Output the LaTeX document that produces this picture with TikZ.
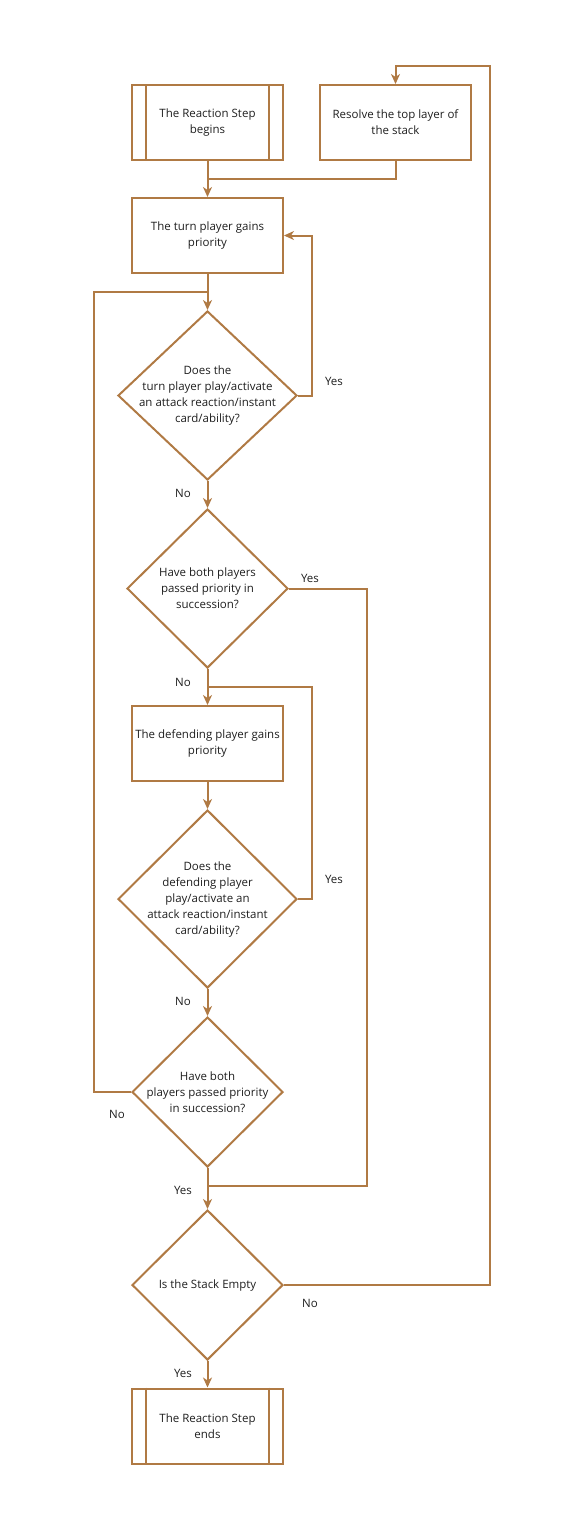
\documentclass[tikz,border=0pt]{standalone}
\usepackage{fontspec}
\setmainfont{Open Sans}
\usepackage{tikz}
\usetikzlibrary{shapes.geometric,arrows.meta}

\definecolor{flowbrown}{RGB}{176,122,68}
\definecolor{flowtext}{RGB}{30,30,30}

\tikzset{
  flowbox/.style={draw=flowbrown, line width=2pt, rectangle, minimum width=151pt, minimum height=75pt, inner sep=0pt, align=center, text=flowtext, font=\fontsize{11.5}{16}\selectfont},
  flowcheck/.style={draw=flowbrown, line width=2pt, diamond, inner sep=0pt},
  flowtxt/.style={align=center, text=flowtext, font=\fontsize{11.5}{16}\selectfont},
  flowline/.style={draw=flowbrown, line width=2pt},
  flowarrow/.style={flowline, -{Stealth[length=10pt,width=9pt,inset=3pt]}},
}

\begin{document}
\begin{tikzpicture}[x=1pt, y=-1pt]

    \useasboundingbox (0,0) rectangle (576,1535);

    \node[flowbox] (start) at (207.5,122.5) {The Reaction Step\\begins};

    \draw[flowline] ([xshift=15pt]start.north west) -- ([xshift=15pt]start.south west);

    \draw[flowline] ([xshift=-15pt]start.north east) -- ([xshift=-15pt]start.south east);

    \node[flowbox] (resolve) at (395.5,122.5) {Resolve the top layer of\\the stack};

    \node[flowbox] (turn) at (207.5,235.5) {The turn player gains\\priority};

    \node[flowcheck, minimum width=179pt, minimum height=169pt] (turnask) at (207.5,395.5) {};

    \node[flowtxt] (turnasktext) at (turnask.center) {Does the\\turn player play/activate\\an attack reaction/instant\\card/ability?};

    \node[flowcheck, minimum width=161pt, minimum height=159pt] (passone) at (207.5,588.5) {};

    \node[flowtxt] (passonetext) at (passone.center) {Have both players\\passed priority in\\succession?};

    \node[flowbox] (defend) at (207.5,743.5) {The defending player gains\\priority};

    \node[flowcheck, minimum width=179pt, minimum height=178pt] (defendask) at (207.5,899) {};

    \node[flowtxt] (defendasktext) at (defendask.center) {Does the\\defending player\\play/activate an\\attack reaction/instant\\card/ability?};

    \node[flowcheck, minimum width=151pt, minimum height=150pt] (passtwo) at (207.5,1092) {};

    \node[flowtxt] (passtwotext) at (passtwo.center) {Have both\\players passed priority\\in succession?};

    \node[flowcheck, minimum width=151pt, minimum height=150pt] (empty) at (207.5,1285) {};

    \node[flowtxt] (emptytext) at (empty.center) {Is the Stack Empty};

    \node[flowbox] (finish) at (207.5,1426) {The Reaction Step\\ends};

    \draw[flowline] ([xshift=15pt]finish.north west) -- ([xshift=15pt]finish.south west);

    \draw[flowline] ([xshift=-15pt]finish.north east) -- ([xshift=-15pt]finish.south east);



    \coordinate (topjoin) at (207.5,179);

    \coordinate (turnjoin) at (207.5,292);

    \coordinate (defendjoin) at (207.5,687);

    \coordinate (emptyjoin) at (207.5,1186);

    \coordinate (loopcorner) at (490,66);



    \draw[flowarrow] (start.south) -- (turn.north);

    \draw[flowline] (resolve.south) |- (topjoin);

    \draw[flowarrow] (turn.south) -- (turnask.north);

    \draw[flowarrow] (turnask.east) -- ++(14,0) |- (turn.east);

    \draw[flowarrow] (turnask.south) -- (passone.north);

    \draw[flowline] (passone.east) -| (367,1186) -- (emptyjoin);

    \draw[flowarrow] (passone.south) -- (defend.north);

    \draw[flowline] (defendask.east) -- ++(14,0) |- (defendjoin);

    \draw[flowarrow] (defend.south) -- (defendask.north);

    \draw[flowarrow] (defendask.south) -- (passtwo.north);

    \draw[flowline] (passtwo.west) -| (94,292) -- (turnjoin);

    \draw[flowarrow] (passtwo.south) -- (empty.north);

    \draw[flowarrow] (empty.east) -| (loopcorner) -| (resolve.north);

    \draw[flowarrow] (empty.south) -- (finish.north);



    \node[flowtxt] (yesone) at (334,381) {Yes};

    \node[flowtxt] (noone) at (183,493) {No};

    \node[flowtxt] (yestwo) at (310,578) {Yes};

    \node[flowtxt] (notwo) at (183,682) {No};

    \node[flowtxt] (yesthree) at (334,879) {Yes};

    \node[flowtxt] (nothree) at (183,1001) {No};

    \node[flowtxt] (nofour) at (117,1114) {No};

    \node[flowtxt] (yesfour) at (183,1190) {Yes};

    \node[flowtxt] (nofive) at (310,1303) {No};

    \node[flowtxt] (yesfive) at (183,1373) {Yes};

  \end{tikzpicture}
\end{document}
